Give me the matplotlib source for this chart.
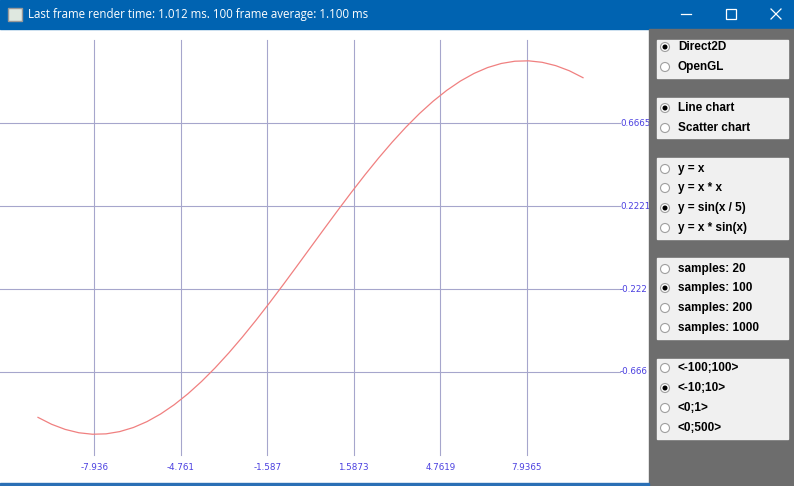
import matplotlib
matplotlib.use("Agg")
import matplotlib.pyplot as plt
from matplotlib.patches import Rectangle, Circle

W, H = 794, 486
xs = [v * 0.5 for v in range(-20, 21)]
pos = [0, 0.0998, 0.1987, 0.2955, 0.3894, 0.4794, 0.5646, 0.6442, 0.7174, 0.7833,
       0.8415, 0.8912, 0.9320, 0.9636, 0.9854, 0.9975, 0.9996, 0.9917, 0.9738, 0.9463, 0.9093]
ys = [-v for v in pos[:0:-1]] + pos
xticks = [-7.936, -4.761, -1.587, 1.5873, 4.7619, 7.9365]
xtick_labels = ["-7.936", "-4.761", "-1.587", "1.5873", "4.7619", "7.9365"]
yticks = [0.6665, 0.2221, -0.222, -0.666]
ytick_labels = ["0.6665", "0.2221", "-0.222", "-0.666"]
title = "Last frame render time: 1.012 ms. 100 frame average: 1.100 ms"
groups = [["Direct2D", "OpenGL"], ["Line chart", "Scatter chart"],
          ["y = x", "y = x * x", "y = sin(x / 5)", "y = x * sin(x)"],
          ["samples: 20", "samples: 100", "samples: 200", "samples: 1000"],
          ["<-100;100>", "<-10;10>", "<0;1>", "<0;500>"]]
selected = [0, 0, 2, 1, 1]

fig = plt.figure(figsize=(W / 100, H / 100), dpi=100)
# chart axes: pixel x 0..649, y 29..484
ax = fig.add_axes([0, (H - 484) / H, 649 / W, (484 - 29) / H])
ax.set_xlim(-11.394, 12.422)
ax.set_ylim(-1.266, 1.170)
ax.axis("off")
gc = "#a6a6cc"
for t in xticks:
    ax.plot([t, t], [-1.11, 1.111], color=gc, lw=0.8)
for t in yticks:
    ax.plot([-11.394, 11.36], [t, t], color=gc, lw=0.8)
ax.plot(xs, ys, color="#f08080", lw=0.9)
lc = "#4a3fe0"
for t, l in zip(xticks, xtick_labels):
    ax.text(t, -1.178, l, color=lc, fontsize=6.3, ha="center", va="center")
for t, l in zip(yticks, ytick_labels):
    ax.text(11.36, t, l, color=lc, fontsize=6.3, ha="left", va="center")

# overlay in pixel coords
ov = fig.add_axes([0, 0, 1, 1])
ov.set_xlim(0, W); ov.set_ylim(H, 0); ov.axis("off")
ov.add_patch(Rectangle((0, 0), W, 29, color="#0063b1"))
ov.add_patch(Rectangle((8, 8), 14, 13, facecolor="#dfe8e0", edgecolor="#999"))
ov.text(28, 14.5, title, color="white", fontsize=8.3, family="Open Sans", va="center")
ov.plot([681, 691], [14, 14], color="white", lw=0.9)
ov.add_patch(Rectangle((726, 9), 10, 10, fill=False, edgecolor="white", lw=0.9))
ov.plot([771, 781], [9, 19], color="white", lw=0.9)
ov.plot([771, 781], [19, 9], color="white", lw=0.9)
ov.add_patch(Rectangle((649, 29), W - 649, H - 29, color="#6d6d6d"))
ov.add_patch(Rectangle((0, 483), 649, 3, color="#2a6fb5"))
boxes = [(40, 78), (98, 138), (158, 239), (258, 339), (359, 439)]
rows = [[47, 67], [108, 128], [169, 188, 208, 228], [269, 288, 308, 328], [368, 388, 408, 428]]
for gi, (b, g) in enumerate(zip(boxes, groups)):
    ov.add_patch(Rectangle((657, b[0]), 131, b[1] - b[0], color="#f0f0f0"))
    for ri, (yy, lab) in enumerate(zip(rows[gi], g)):
        ov.add_patch(Circle((665, yy), 4.5, facecolor="white", edgecolor="#a0a0a0", lw=0.8))
        if ri == selected[gi]:
            ov.add_patch(Circle((665, yy), 1.8, color="black"))
        ov.text(678, yy, lab, fontsize=8.5, fontweight="bold", family="Liberation Sans",
                va="center", ha="left", color="black")
fig.savefig("out.png", dpi=100)
